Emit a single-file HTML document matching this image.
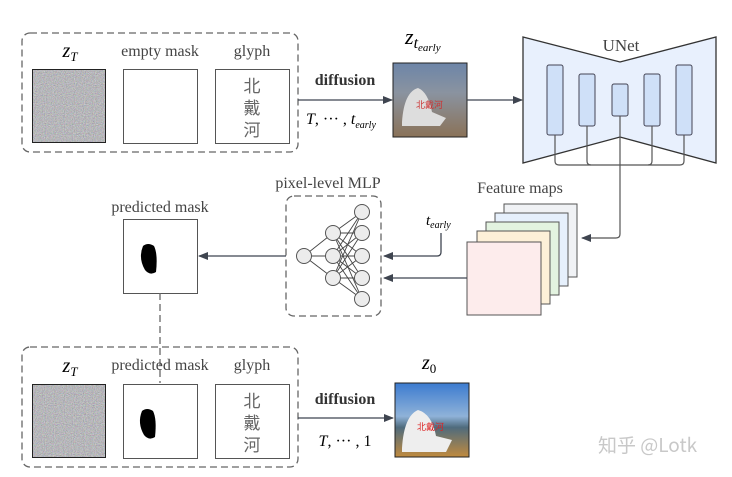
<!DOCTYPE html>
<html><head><style>html,body{margin:0;padding:0;background:#fff}svg{display:block}</style></head>
<body>
<svg width="732" height="477" viewBox="0 0 732 477" xmlns="http://www.w3.org/2000/svg" font-family="Liberation Serif, serif">
<defs>
<filter id="nz" x="0" y="0" width="100%" height="100%"><feTurbulence type="fractalNoise" baseFrequency="0.9" numOctaves="2" seed="3"/><feColorMatrix type="matrix" values="0.5 0.1 0.1 0 0.12 0.1 0.5 0.1 0 0.12 0.1 0.1 0.5 0 0.14 0 0 0 0 1"/></filter>
<marker id="ah" markerWidth="10" markerHeight="8" refX="9" refY="4" orient="auto" markerUnits="userSpaceOnUse"><path d="M0,0 L10,4 L0,8 z" fill="#3f4550"/></marker>
<linearGradient id="sky1" x1="0" y1="0" x2="0" y2="1"><stop offset="0" stop-color="#6d85a8"/><stop offset="0.4" stop-color="#8a93a0"/><stop offset="1" stop-color="#8a7258"/></linearGradient>
<linearGradient id="sky2" x1="0" y1="0" x2="0" y2="1"><stop offset="0" stop-color="#3c7bd0"/><stop offset="0.45" stop-color="#8fb2d8"/><stop offset="0.6" stop-color="#4f6b7d"/><stop offset="1" stop-color="#c08a3e"/></linearGradient>
</defs>

<rect x="22" y="33" width="276" height="119" rx="8" fill="none" stroke="#666" stroke-width="1.3" stroke-dasharray="7,4"/>
<text x="70" y="57" font-size="20" font-style="italic" text-anchor="middle">z<tspan font-size="13" dy="4">T</tspan></text>
<text x="160" y="56" font-size="16" fill="#444" text-anchor="middle">empty mask</text>
<text x="252" y="56" font-size="16" fill="#444" text-anchor="middle">glyph</text>
<rect x="32" y="69" width="74" height="74" filter="url(#nz)"/>
<rect x="32.5" y="69.5" width="73" height="73" fill="none" stroke="#222"/>
<rect x="123.5" y="69.5" width="74" height="74" fill="#fff" stroke="#555"/>
<rect x="215.5" y="69.5" width="74" height="74" fill="#fff" stroke="#555"/>
<g font-family="Noto Sans CJK SC, sans-serif" font-size="17" fill="#666" text-anchor="middle"><text x="252" y="92">北</text><text x="252" y="114">戴</text><text x="252" y="136">河</text></g>

<line x1="298" y1="100" x2="392" y2="100" stroke="#3f4550" stroke-width="1.3" marker-end="url(#ah)"/>
<text x="345" y="85" font-size="16" font-weight="bold" fill="#333" text-anchor="middle">diffusion</text>
<text x="306" y="124" font-size="16" font-style="italic">T<tspan font-style="normal">, ··· , </tspan>t<tspan font-size="10" dy="4">early</tspan></text>

<text x="405" y="44" font-size="22" font-style="italic">z<tspan font-size="16" dy="4">t</tspan><tspan font-size="11" dy="3">early</tspan></text>
<rect x="393" y="63" width="74" height="74" fill="url(#sky1)" stroke="#222"/>
<path d="M402,122 Q404,92 418,88 Q428,92 432,112 L446,118 L440,126 L402,126 z" fill="#ddd"/>
<text x="416" y="108" font-family="Noto Sans CJK SC, sans-serif" font-size="9" fill="#c33">北戴河</text>
<line x1="467" y1="100" x2="522" y2="100" stroke="#3f4550" stroke-width="1.3" marker-end="url(#ah)"/>

<path d="M523,37 L620,62 L716,37 L716,163 L620,137 L523,163 z" fill="#e8f0fd" stroke="#333" stroke-width="1.3"/>
<text x="621" y="51" font-size="17" fill="#444" text-anchor="middle">UNet</text>
<g fill="#cfe0f8" stroke="#445" stroke-width="1">
<rect x="547" y="65" width="16" height="70" rx="2"/><rect x="579" y="74" width="16" height="52" rx="2"/><rect x="612" y="84" width="16" height="32" rx="2"/><rect x="644" y="74" width="16" height="52" rx="2"/><rect x="676" y="65" width="16" height="70" rx="2"/></g>
<g fill="none" stroke="#555" stroke-width="1.2">
<path d="M555,135 V161 Q555,165 559,165 H680 Q684,165 684,161 V135"/>
<path d="M587,126 V161 Q587,165 591,165 M652,126 V161 Q652,165 648,165"/>
<path d="M620,116 V234 Q620,238 616,238 H582" marker-end="url(#ah)"/>
</g>

<text x="520" y="193" font-size="16" fill="#444" text-anchor="middle">Feature maps</text>
<rect x="504" y="204" width="73" height="73" fill="#f0f2f5" stroke="#555"/>
<rect x="495" y="213" width="73" height="73" fill="#e6f0fc" stroke="#555"/>
<rect x="486" y="222" width="73" height="73" fill="#e3f3e0" stroke="#555"/>
<rect x="477" y="231" width="73" height="73" fill="#fdf0d8" stroke="#555"/>
<rect x="467" y="242" width="74" height="73" fill="#fdecec" stroke="#555"/>

<line x1="467" y1="278" x2="384" y2="278" stroke="#3f4550" stroke-width="1.3" marker-end="url(#ah)"/>
<path d="M441,233 V252 Q441,256 437,256 H384" fill="none" stroke="#3f4550" stroke-width="1.3" marker-end="url(#ah)"/>
<text x="426" y="225" font-size="15" font-style="italic">t<tspan font-size="10" dy="3">early</tspan></text>

<text x="328" y="188" font-size="16" fill="#444" text-anchor="middle">pixel-level MLP</text>
<rect x="286" y="196" width="95" height="120" rx="8" fill="none" stroke="#666" stroke-width="1.3" stroke-dasharray="7,4"/>
<g stroke="#444" stroke-width="0.9">
<line x1="304" y1="256" x2="333" y2="233"/><line x1="304" y1="256" x2="333" y2="256"/><line x1="304" y1="256" x2="333" y2="278"/>
<line x1="333" y1="233" x2="362" y2="212"/><line x1="333" y1="233" x2="362" y2="233"/><line x1="333" y1="233" x2="362" y2="256"/><line x1="333" y1="233" x2="362" y2="278"/><line x1="333" y1="233" x2="362" y2="299"/>
<line x1="333" y1="256" x2="362" y2="212"/><line x1="333" y1="256" x2="362" y2="233"/><line x1="333" y1="256" x2="362" y2="256"/><line x1="333" y1="256" x2="362" y2="278"/><line x1="333" y1="256" x2="362" y2="299"/>
<line x1="333" y1="278" x2="362" y2="212"/><line x1="333" y1="278" x2="362" y2="233"/><line x1="333" y1="278" x2="362" y2="256"/><line x1="333" y1="278" x2="362" y2="278"/><line x1="333" y1="278" x2="362" y2="299"/>
</g>
<g fill="#ececec" stroke="#555" stroke-width="1">
<circle cx="304" cy="256" r="7.5"/><circle cx="333" cy="233" r="7.5"/><circle cx="333" cy="256" r="7.5"/><circle cx="333" cy="278" r="7.5"/>
<circle cx="362" cy="212" r="7.5"/><circle cx="362" cy="233" r="7.5"/><circle cx="362" cy="256" r="7.5"/><circle cx="362" cy="278" r="7.5"/><circle cx="362" cy="299" r="7.5"/></g>
<line x1="286" y1="256" x2="199" y2="256" stroke="#3f4550" stroke-width="1.3" marker-end="url(#ah)"/>

<text x="160" y="212" font-size="16" fill="#444" text-anchor="middle">predicted mask</text>
<rect x="123.5" y="219.5" width="74" height="74" fill="#fff" stroke="#555"/>
<path d="M143,246 Q148,242 154,246 Q158,254 156,272 Q150,276 145,270 Q138,258 143,246 z" fill="#000"/>
<line x1="160" y1="293" x2="160" y2="383" stroke="#666" stroke-width="1.3" stroke-dasharray="7,4"/>

<rect x="22" y="347" width="276" height="120" rx="8" fill="none" stroke="#666" stroke-width="1.3" stroke-dasharray="7,4"/>
<text x="70" y="372" font-size="20" font-style="italic" text-anchor="middle">z<tspan font-size="13" dy="4">T</tspan></text>
<text x="160" y="370" font-size="16" fill="#444" text-anchor="middle">predicted mask</text>
<text x="252" y="370" font-size="16" fill="#444" text-anchor="middle">glyph</text>
<rect x="32" y="384" width="74" height="74" filter="url(#nz)"/>
<rect x="32.5" y="384.5" width="73" height="73" fill="none" stroke="#222"/>
<rect x="123.5" y="384.5" width="74" height="74" fill="#fff" stroke="#555"/>
<path d="M142,411 Q147,407 153,411 Q157,419 155,437 Q149,441 144,435 Q137,423 142,411 z" fill="#000"/>
<rect x="215.5" y="384.5" width="74" height="74" fill="#fff" stroke="#555"/>
<g font-family="Noto Sans CJK SC, sans-serif" font-size="17" fill="#666" text-anchor="middle"><text x="252" y="407">北</text><text x="252" y="429">戴</text><text x="252" y="451">河</text></g>

<line x1="298" y1="418" x2="393" y2="418" stroke="#3f4550" stroke-width="1.3" marker-end="url(#ah)"/>
<text x="345" y="404" font-size="16" font-weight="bold" fill="#333" text-anchor="middle">diffusion</text>
<text x="345" y="446" font-size="16" text-anchor="middle"><tspan font-style="italic">T</tspan>, ··· , 1</text>

<text x="422" y="369" font-size="20" font-style="italic">z<tspan font-size="13" dy="4" font-style="normal">0</tspan></text>
<rect x="395" y="383" width="74" height="74" fill="url(#sky2)" stroke="#222"/>
<path d="M402,448 Q404,416 418,410 Q432,414 436,436 L452,440 L446,452 L402,452 z" fill="#eee"/>
<text x="417" y="430" font-family="Noto Sans CJK SC, sans-serif" font-size="9" fill="#d22">北戴河</text>

<text x="598" y="452" font-family="Noto Sans CJK SC, Liberation Sans, sans-serif" font-size="19" fill="#c8c8c8">知乎 @Lotk</text>
</svg>
</body></html>
